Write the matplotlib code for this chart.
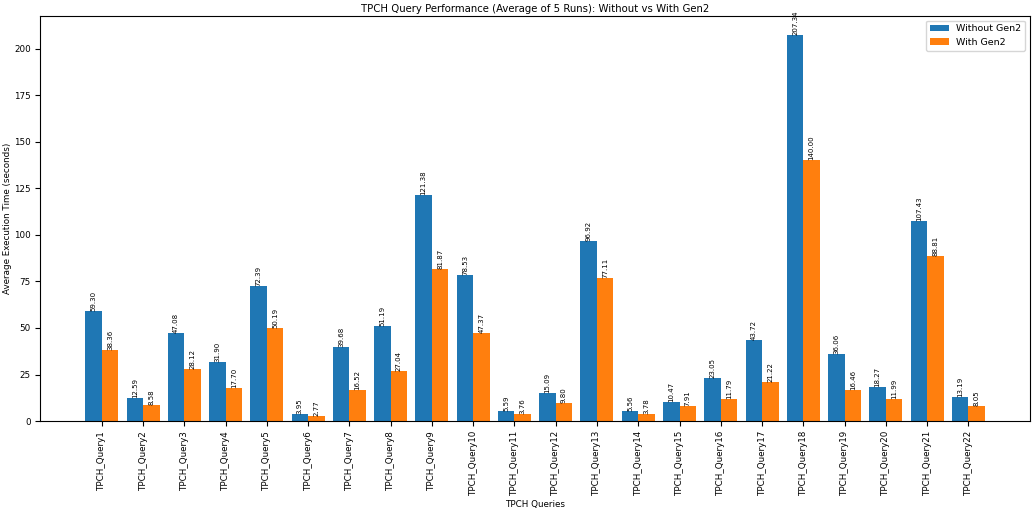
import numpy as np
import matplotlib
matplotlib.use('Agg')
import matplotlib.pyplot as plt

#==================
#====== Data
#==================
queries = ['TPCH_Query%d' % i for i in range(1, 23)]
without_gen2 = [59.30, 12.59, 47.08, 31.90, 72.39, 3.95, 39.68, 51.19, 121.38, 78.53, 5.59,
                15.09, 96.92, 5.56, 10.47, 23.05, 43.72, 207.34, 36.06, 18.27, 107.43, 13.19]
with_gen2 = [38.36, 8.58, 28.12, 17.70, 50.19, 2.77, 16.52, 27.04, 81.87, 47.37, 3.76,
             9.80, 77.11, 3.78, 7.91, 11.79, 21.22, 140.00, 16.46, 11.99, 88.81, 8.05]

#==================
#====== Plot
#==================
plt.rcParams['font.size'] = 6.3

fig, ax = plt.subplots(figsize=(10.35, 5.11), dpi=100)
fig.subplots_adjust(left=0.039, right=0.995, top=0.969, bottom=0.176)

x = np.arange(len(queries))
w = 0.4  # bar width

b1 = ax.bar(x - w/2, without_gen2, w, label='Without Gen2', color='#1f77b4')
b2 = ax.bar(x + w/2, with_gen2, w, label='With Gen2', color='#ff7f0e')

# value labels on top of the bars
for bars in (b1, b2):
    for rect in bars:
        h = rect.get_height()
        ax.text(rect.get_x() + rect.get_width()/2, h, '%.2f' % h,
                ha='center', va='bottom', rotation=90, fontsize=5)

ax.set_xticks(x)
ax.set_xticklabels(queries, rotation=90)
ax.set_xlabel('TPCH Queries', labelpad=3)
ax.set_ylabel('Average Execution Time (seconds)', labelpad=1.5)
ax.set_title('TPCH Query Performance (Average of 5 Runs): Without vs With Gen2', fontsize=7.3, pad=3)
ax.legend(loc='upper right', fontsize=6.8)

fig.savefig('out.png', dpi=100)
